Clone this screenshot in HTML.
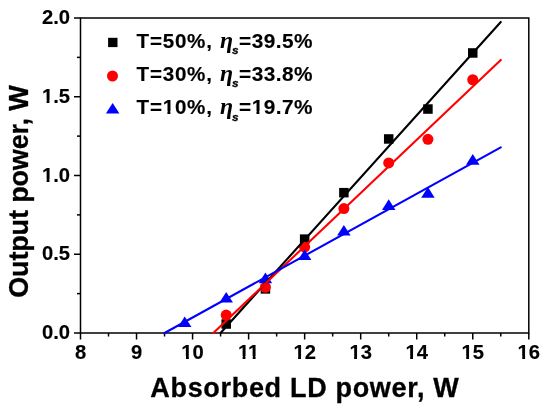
<!DOCTYPE html>
<html><head><meta charset="utf-8"><title>Output power vs absorbed LD power</title>
<style>html,body{margin:0;padding:0;background:#fff;}svg{display:block;}</style></head><body>
<svg width="550" height="411" viewBox="0 0 550 411">
<rect width="550" height="411" fill="#fff"/>
<g fill="#000">
<rect x="221.45" y="319.27" width="9.5" height="9.5"/>
<rect x="260.67" y="284.15" width="9.5" height="9.5"/>
<rect x="299.90" y="234.38" width="9.5" height="9.5"/>
<rect x="339.13" y="187.92" width="9.5" height="9.5"/>
<rect x="383.96" y="134.21" width="9.5" height="9.5"/>
<rect x="423.18" y="104.29" width="9.5" height="9.5"/>
<rect x="468.01" y="48.21" width="9.5" height="9.5"/>
</g><g fill="#f00">
<circle cx="226.20" cy="315.05" r="5.5"/>
<circle cx="265.42" cy="287.32" r="5.5"/>
<circle cx="304.65" cy="247.16" r="5.5"/>
<circle cx="343.88" cy="208.57" r="5.5"/>
<circle cx="388.71" cy="162.90" r="5.5"/>
<circle cx="427.93" cy="139.28" r="5.5"/>
<circle cx="472.76" cy="79.74" r="5.5"/>
</g><g fill="#00f">
<polygon points="184.73,316.40 191.48,327.00 177.98,327.00"/>
<polygon points="226.20,292.00 232.95,302.60 219.45,302.60"/>
<polygon points="265.42,272.60 272.17,283.20 258.67,283.20"/>
<polygon points="304.65,249.50 311.40,260.10 297.90,260.10"/>
<polygon points="343.88,224.90 350.63,235.50 337.13,235.50"/>
<polygon points="388.71,199.30 395.46,209.90 381.96,209.90"/>
<polygon points="427.93,187.10 434.68,197.70 421.18,197.70"/>
<polygon points="472.76,154.10 479.51,164.70 466.01,164.70"/>
</g>
<rect x="80.5" y="18.0" width="448.29999999999995" height="315.0" fill="none" stroke="#000" stroke-width="1.5"/>
<g stroke="#000" stroke-width="1.5">
<line x1="80.50" y1="333.0" x2="80.50" y2="339.5"/>
<line x1="108.52" y1="333.0" x2="108.52" y2="336.5"/>
<line x1="136.54" y1="333.0" x2="136.54" y2="339.5"/>
<line x1="164.56" y1="333.0" x2="164.56" y2="336.5"/>
<line x1="192.57" y1="333.0" x2="192.57" y2="339.5"/>
<line x1="220.59" y1="333.0" x2="220.59" y2="336.5"/>
<line x1="248.61" y1="333.0" x2="248.61" y2="339.5"/>
<line x1="276.63" y1="333.0" x2="276.63" y2="336.5"/>
<line x1="304.65" y1="333.0" x2="304.65" y2="339.5"/>
<line x1="332.67" y1="333.0" x2="332.67" y2="336.5"/>
<line x1="360.69" y1="333.0" x2="360.69" y2="339.5"/>
<line x1="388.71" y1="333.0" x2="388.71" y2="336.5"/>
<line x1="416.72" y1="333.0" x2="416.72" y2="339.5"/>
<line x1="444.74" y1="333.0" x2="444.74" y2="336.5"/>
<line x1="472.76" y1="333.0" x2="472.76" y2="339.5"/>
<line x1="500.78" y1="333.0" x2="500.78" y2="336.5"/>
<line x1="528.80" y1="333.0" x2="528.80" y2="339.5"/>
<line x1="80.5" y1="333.00" x2="74.0" y2="333.00"/>
<line x1="80.5" y1="293.62" x2="77.0" y2="293.62"/>
<line x1="80.5" y1="254.25" x2="74.0" y2="254.25"/>
<line x1="80.5" y1="214.88" x2="77.0" y2="214.88"/>
<line x1="80.5" y1="175.50" x2="74.0" y2="175.50"/>
<line x1="80.5" y1="136.12" x2="77.0" y2="136.12"/>
<line x1="80.5" y1="96.75" x2="74.0" y2="96.75"/>
<line x1="80.5" y1="57.38" x2="77.0" y2="57.38"/>
<line x1="80.5" y1="18.00" x2="74.0" y2="18.00"/>
</g>
<line x1="220.59" y1="333.00" x2="500.78" y2="21.94" stroke="#000" stroke-width="2.1" stroke-linecap="round"/>
<line x1="213.31" y1="333.00" x2="500.78" y2="59.90" stroke="#f00" stroke-width="2.1" stroke-linecap="round"/>
<line x1="164.56" y1="333.00" x2="500.78" y2="147.40" stroke="#00f" stroke-width="2.1" stroke-linecap="round"/>
<g font-family="Liberation Sans, Arial, Helvetica, sans-serif" font-weight="bold" stroke="#000" stroke-width="0.15" font-size="20.2">
<text class="m" x="80.50" y="358.8" text-anchor="middle">8</text>
<text class="m" x="136.54" y="358.8" text-anchor="middle">9</text>
<text class="m" x="192.57" y="358.8" text-anchor="middle">10</text>
<text class="m" x="248.61" y="358.8" text-anchor="middle">11</text>
<text class="m" x="304.65" y="358.8" text-anchor="middle">12</text>
<text class="m" x="360.69" y="358.8" text-anchor="middle">13</text>
<text class="m" x="416.72" y="358.8" text-anchor="middle">14</text>
<text class="m" x="472.76" y="358.8" text-anchor="middle">15</text>
<text class="m" x="528.80" y="358.8" text-anchor="middle">16</text>
<text class="m" x="70" y="339.00" text-anchor="end">0.0</text>
<text class="m" x="70" y="260.25" text-anchor="end">0.5</text>
<text class="m" x="70" y="181.50" text-anchor="end">1.0</text>
<text class="m" x="70" y="102.75" text-anchor="end">1.5</text>
<text class="m" x="70" y="24.00" text-anchor="end">2.0</text>
</g>
<text x="150.3" y="396.7" font-family="Liberation Sans, Arial, Helvetica, sans-serif" font-weight="bold" stroke="#000" stroke-width="0.3" font-size="27" textLength="308.5" lengthAdjust="spacing">Absorbed LD power, W</text>
<text transform="translate(27.6,297.8) rotate(-90)" font-family="Liberation Sans, Arial, Helvetica, sans-serif" font-weight="bold" stroke="#000" stroke-width="0.3" font-size="27" textLength="212.5" lengthAdjust="spacing">Output power, W</text>
<text class="m" x="136.6" y="47.5" font-family="Liberation Sans, Arial, Helvetica, sans-serif" font-weight="bold" stroke="#000" stroke-width="0.15" font-size="20.6" letter-spacing="0.75">T=50%,</text>
<text x="220" y="47.5" font-family="Liberation Serif, serif" font-weight="bold" font-style="italic" font-size="23.8">η</text>
<text x="232.0" y="54.2" font-family="Liberation Sans, Arial, Helvetica, sans-serif" font-weight="bold" font-style="italic" font-size="11.8" stroke="#000" stroke-width="0.3">s</text>
<text class="m" x="239.0" y="47.5" font-family="Liberation Sans, Arial, Helvetica, sans-serif" font-weight="bold" stroke="#000" stroke-width="0.15" font-size="20.8" letter-spacing="0.5">=39.5%</text>
<text class="m" x="136.6" y="80.6" font-family="Liberation Sans, Arial, Helvetica, sans-serif" font-weight="bold" stroke="#000" stroke-width="0.15" font-size="20.6" letter-spacing="0.75">T=30%,</text>
<text x="220" y="80.6" font-family="Liberation Serif, serif" font-weight="bold" font-style="italic" font-size="23.8">η</text>
<text x="232.0" y="87.3" font-family="Liberation Sans, Arial, Helvetica, sans-serif" font-weight="bold" font-style="italic" font-size="11.8" stroke="#000" stroke-width="0.3">s</text>
<text class="m" x="239.0" y="80.6" font-family="Liberation Sans, Arial, Helvetica, sans-serif" font-weight="bold" stroke="#000" stroke-width="0.15" font-size="20.8" letter-spacing="0.5">=33.8%</text>
<text class="m" x="136.6" y="114.0" font-family="Liberation Sans, Arial, Helvetica, sans-serif" font-weight="bold" stroke="#000" stroke-width="0.15" font-size="20.6" letter-spacing="0.75">T=10%,</text>
<text x="220" y="114.0" font-family="Liberation Serif, serif" font-weight="bold" font-style="italic" font-size="23.8">η</text>
<text x="232.0" y="120.7" font-family="Liberation Sans, Arial, Helvetica, sans-serif" font-weight="bold" font-style="italic" font-size="11.8" stroke="#000" stroke-width="0.3">s</text>
<text class="m" x="239.0" y="114.0" font-family="Liberation Sans, Arial, Helvetica, sans-serif" font-weight="bold" stroke="#000" stroke-width="0.15" font-size="20.8" letter-spacing="0.5">=19.7%</text>
<rect x="108.1" y="37.8" width="9.4" height="9.3" fill="#000"/>
<circle cx="112.5" cy="76" r="5.5" fill="#f00"/>
<polygon points="112.65,103.0 119.4,113.5 105.9,113.5" fill="#00f"/>
<g fill="#fff">
<rect x="182.00" y="356.00" width="4.00" height="4.00"/>
<rect x="188.87" y="356.00" width="4.13" height="4.00"/>
<rect x="238.00" y="356.00" width="4.60" height="4.00"/>
<rect x="245.47" y="356.00" width="4.53" height="4.00"/>
<rect x="248.00" y="356.00" width="4.71" height="4.00"/>
<rect x="255.58" y="356.00" width="4.42" height="4.00"/>
<rect x="294.00" y="356.00" width="4.08" height="4.00"/>
<rect x="300.95" y="356.00" width="4.05" height="4.00"/>
<rect x="350.00" y="356.00" width="4.12" height="4.00"/>
<rect x="356.99" y="356.00" width="4.01" height="4.00"/>
<rect x="406.00" y="356.00" width="4.15" height="4.00"/>
<rect x="413.02" y="356.00" width="3.98" height="4.00"/>
<rect x="462.00" y="356.00" width="4.19" height="4.00"/>
<rect x="469.06" y="356.00" width="3.94" height="4.00"/>
<rect x="518.00" y="356.00" width="4.23" height="4.00"/>
<rect x="525.10" y="356.00" width="3.90" height="4.00"/>
<rect x="42.00" y="179.00" width="4.59" height="4.00"/>
<rect x="49.46" y="179.00" width="3.54" height="4.00"/>
<rect x="42.00" y="100.00" width="4.59" height="4.00"/>
<rect x="49.46" y="100.00" width="3.54" height="4.00"/>
<rect x="163.00" y="111.00" width="4.45" height="4.00"/>
<rect x="170.38" y="111.00" width="3.62" height="4.00"/>
<rect x="252.00" y="111.00" width="4.45" height="4.00"/>
<rect x="259.40" y="111.00" width="4.60" height="4.00"/>
</g>
</svg>
</body></html>
